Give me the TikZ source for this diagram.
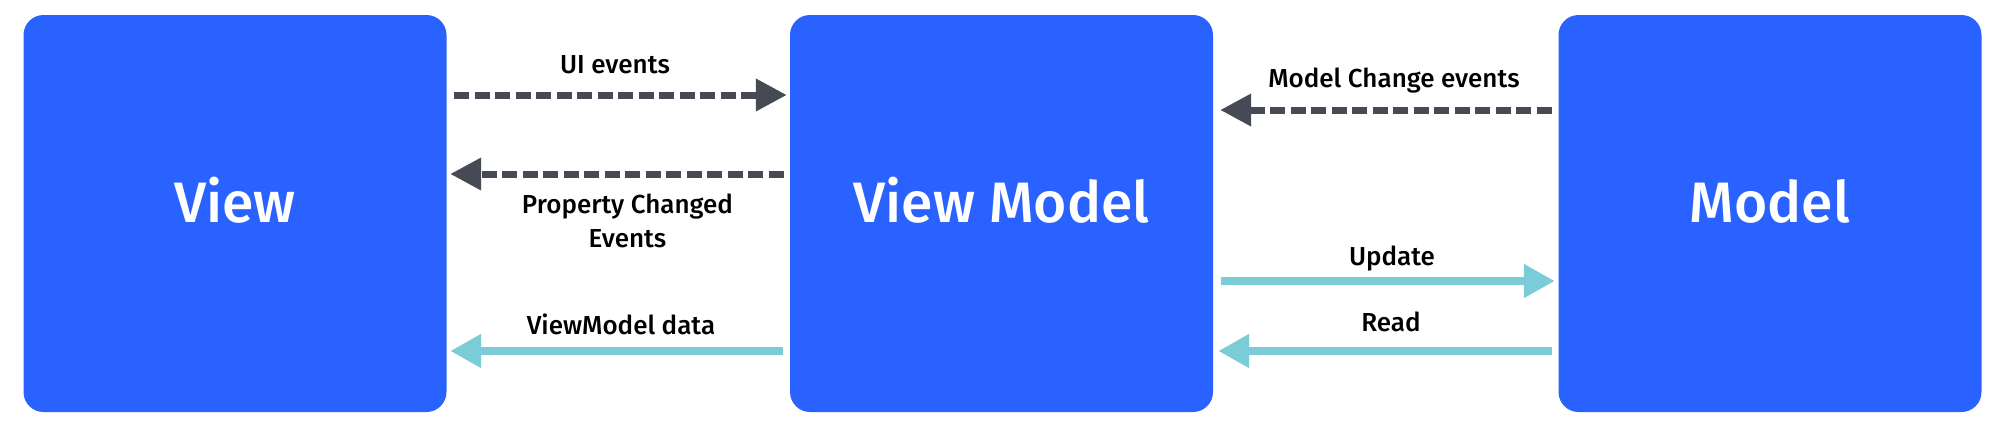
\documentclass[tikz,border=0pt]{standalone}
\usepackage{fontspec}
\setmainfont{Fira Sans}[UprightFont={* Medium},BoldFont={* SemiBold}]
\usepackage{tikz}
\usetikzlibrary{arrows.meta,calc,positioning}
\definecolor{boxblue}{HTML}{2962FF}
\definecolor{evgray}{HTML}{464A55}
\definecolor{datacyan}{HTML}{7ACDD7}

\begin{document}
\begin{tikzpicture}[x=1pt,y=1pt,
    block/.style={fill=boxblue,rounded corners=20pt,minimum width=423pt,minimum height=397pt,
      text=white,text height=40pt,text depth=23pt,font=\fontsize{57}{60}\selectfont},
    evarrow/.style={evgray,line width=7pt,dash pattern=on 15pt off 5.5pt,-{Triangle[length=31pt,width=31pt]}},
    dataarrow/.style={datacyan,line width=8pt,-{Triangle[length=31pt,width=32pt]}},
    lbl/.style={anchor=base,text=black,font=\fontsize{26}{34}\selectfont,align=center}]
  \useasboundingbox(0,0)rectangle(2000,-434);
  \node[block](view)at(235,-213.5){View};
  \node[block](vm)at(1001.5,-213.5){View Model};
  \node[block](model)at(1770,-213.5){Model};
  % view <-> view model
  \draw[evarrow]([xshift=7.5pt,yshift=118.5pt]view.east)--([xshift=-3pt,yshift=118.5pt]vm.west)
    node[lbl,midway,xshift=-5.5pt,yshift=22pt]{UI events};
  \draw[evarrow]([xshift=-6pt,yshift=39.5pt]vm.west)--([xshift=3.5pt,yshift=39.5pt]view.east)
    node[lbl,midway,xshift=10.5pt,yshift=-73pt]{Property Changed\\Events};
  \draw[dataarrow]([xshift=-7pt,yshift=-137.5pt]vm.west)--([xshift=3.5pt,yshift=-137.5pt]view.east)
    node[lbl,midway,xshift=4.5pt,yshift=17pt]{ViewModel data};
  % view model <-> model
  \draw[evarrow]([xshift=-6.5pt,yshift=103.5pt]model.west)--([xshift=7pt,yshift=103.5pt]vm.east)
    node[lbl,midway,xshift=8pt,yshift=23pt]{Model Change events};
  \draw[dataarrow]([xshift=8pt,yshift=-67.5pt]vm.east)--([xshift=-3.5pt,yshift=-67.5pt]model.west)
    node[lbl,midway,xshift=4pt,yshift=16pt]{Update};
  \draw[dataarrow]([xshift=-6.5pt,yshift=-137.5pt]model.west)--([xshift=5pt,yshift=-137.5pt]vm.east)
    node[lbl,midway,xshift=6pt,yshift=20pt]{Read};
\end{tikzpicture}
\end{document}
